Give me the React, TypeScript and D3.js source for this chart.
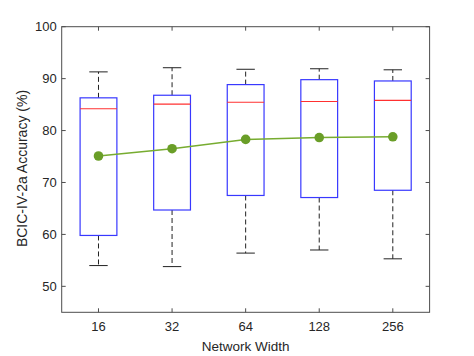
import React from "react";
import * as d3 from "d3";

const categories = ["16", "32", "64", "128", "256"];
const whiskerLow = [54.0, 53.8, 56.4, 57.0, 55.3];
const q1 = [59.8, 64.7, 67.5, 67.1, 68.5];
const median = [84.2, 85.1, 85.45, 85.6, 85.8];
const q3 = [86.3, 86.8, 88.85, 89.8, 89.55];
const whiskerHigh = [91.3, 92.1, 91.8, 91.9, 91.7];
const meanValues = [75.1, 76.5, 78.3, 78.65, 78.8];
const yTicks = [50, 60, 70, 80, 90, 100];

const W = 474;
const H = 356;
const left = 61.7;
const right = 429.6;
const top = 26.7;
const bottom = 312.3;
const font = "'Liberation Sans', Arial, Helvetica, sans-serif";
const axisColor = "#4d4d4d";

export default function App() {
  const x = d3.scaleLinear().domain([0.5, categories.length + 0.5]).range([left, right]);
  const y = d3.scaleLinear().domain([45, 100]).range([bottom, top]);
  const boxHalf = (x(1) - x(0)) * 0.25;
  const capHalf = boxHalf / 2;
  const line = d3
    .line<number>()
    .x((_, i) => x(i + 1))
    .y((d) => y(d));
  const tickLen = 4;

  return (
    <svg
      width={W}
      height={H}
      style={{ position: "absolute", left: 0, top: 0, background: "#fff" }}
      fontFamily={font}
    >
      <rect x={0} y={0} width={W} height={H} fill="#fff" />
      {categories.map((c, i) => {
        const cx = x(i + 1);
        return (
          <g key={c}>
            <line x1={cx} x2={cx} y1={y(q3[i])} y2={y(whiskerHigh[i])} stroke="#222" strokeWidth={1} strokeDasharray="5,3" />
            <line x1={cx} x2={cx} y1={y(q1[i])} y2={y(whiskerLow[i])} stroke="#222" strokeWidth={1} strokeDasharray="5,3" />
            <line x1={cx - capHalf} x2={cx + capHalf} y1={y(whiskerHigh[i])} y2={y(whiskerHigh[i])} stroke="#222" strokeWidth={1} />
            <line x1={cx - capHalf} x2={cx + capHalf} y1={y(whiskerLow[i])} y2={y(whiskerLow[i])} stroke="#222" strokeWidth={1} />
            <rect
              x={cx - boxHalf}
              y={y(q3[i])}
              width={boxHalf * 2}
              height={y(q1[i]) - y(q3[i])}
              fill="none"
              stroke="#3838ff"
              strokeWidth={1.2}
            />
            <line x1={cx - boxHalf} x2={cx + boxHalf} y1={y(median[i])} y2={y(median[i])} stroke="#ff3030" strokeWidth={1.2} />
          </g>
        );
      })}
      <path d={line(meanValues) || ""} fill="none" stroke="#77ac30" strokeWidth={1.5} />
      {meanValues.map((v, i) => (
        <circle key={i} cx={x(i + 1)} cy={y(v)} r={4.8} fill="#6a9e28" />
      ))}
      <rect x={left} y={top} width={right - left} height={bottom - top} fill="none" stroke={axisColor} strokeWidth={1} />
      {yTicks.map((t) => (
        <g key={t}>
          <line x1={left} x2={left + tickLen} y1={y(t)} y2={y(t)} stroke={axisColor} />
          <line x1={right} x2={right - tickLen} y1={y(t)} y2={y(t)} stroke={axisColor} />
          <text x={left - 5} y={y(t)} dy="0.35em" textAnchor="end" fontSize={13} fill="#262626">
            {t}
          </text>
        </g>
      ))}
      {categories.map((c, i) => (
        <g key={c}>
          <line x1={x(i + 1)} x2={x(i + 1)} y1={bottom} y2={bottom - tickLen} stroke={axisColor} />
          <line x1={x(i + 1)} x2={x(i + 1)} y1={top} y2={top + tickLen} stroke={axisColor} />
          <text x={x(i + 1)} y={331} textAnchor="middle" fontSize={13} fill="#262626">
            {c}
          </text>
        </g>
      ))}
      <text x={(left + right) / 2} y={351} textAnchor="middle" fontSize={13.5} fill="#262626">
        Network Width
      </text>
      <text
        transform={`translate(27, ${(top + bottom) / 2 - 1}) rotate(-90)`}
        textAnchor="middle"
        fontSize={14}
        fill="#262626"
      >
        BCIC-IV-2a Accuracy (%)
      </text>
    </svg>
  );
}
